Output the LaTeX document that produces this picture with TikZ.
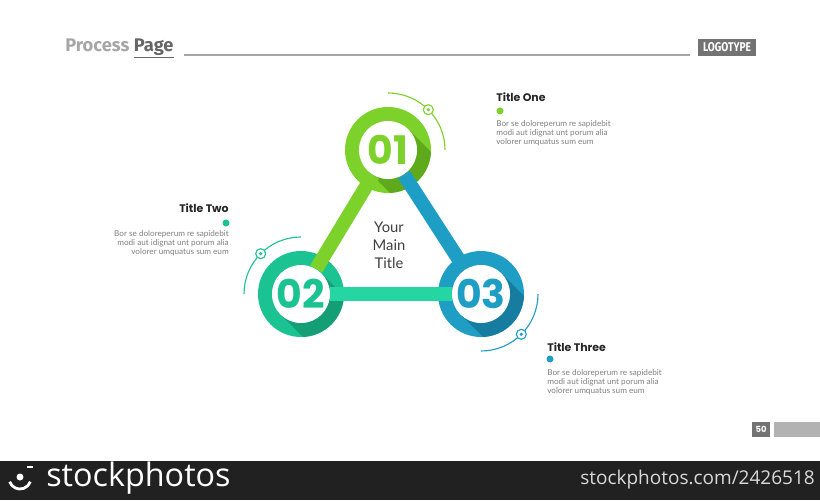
\documentclass[tikz,border=0pt]{standalone}
\usepackage{fontspec}
\setmainfont{Lato}
\newfontfamily\numfont{Poppins}
\newfontfamily\headfont{Fira Sans}
\newfontfamily\condfont[FakeStretch=0.8]{Fira Sans}
\newfontfamily\wmfont{Open Sans}
\usetikzlibrary{backgrounds,calc}

\definecolor{limeg}{HTML}{7DD12B}
\definecolor{limed}{HTML}{5EAA1C}
\definecolor{tealg}{HTML}{1BC393}
\definecolor{teald}{HTML}{139E76}
\definecolor{mintg}{HTML}{26D6A2}
\definecolor{blueg}{HTML}{1E9EC4}
\definecolor{blued}{HTML}{167DA0}

% long shadow on the lower right of a ring
\newcommand{\ringshadow}[2]{%
  \begin{scope}
    \clip ($(#1.center)+(20.5,20.5)$) -- ++(60,-60)
          -- ($(#1.center)+(39.5,-80.5)$) -- ($(#1.center)+(-20.5,-20.5)$) -- cycle;
    \fill[#2, even odd rule] (#1.center) circle (43) (#1.center) circle (29);
  \end{scope}}
\newcommand{\lorem}{Bor se doloreperum re sapidebit\\modi aut idignat unt porum alia\\volorer umquatus sum eum}

\begin{document}
\begin{tikzpicture}[x=0.025cm, y=0.025cm]

    \tikzset{% This is the style settings for nodes
        hub/.style={circle, minimum size=1.45cm, inner sep=0pt, fill=white, text=#1,
                    font=\numfont\bfseries\fontsize{28}{28}\selectfont},
        bar/.style={line width=0.35cm, draw=#1},
        deco/.style={draw=#1, line width=0.8pt},
        marker/.style={circle, draw=#1, fill=white, line width=0.8pt, minimum size=0.25cm, inner sep=0pt,
                    path picture={\fill[#1] (path picture bounding box.center) circle (0.045cm);}},
        title/.style={font=\numfont\bfseries\fontsize{7.8}{9}\selectfont, text=black!85, inner sep=0pt},
        body/.style={font=\fontsize{5.8}{6.5}\selectfont, text=black!50, inner sep=0pt}}

    \useasboundingbox (0,0) rectangle (820,500);

    % header
    \node [anchor=base west, inner sep=0pt, text=black!35, font=\headfont\bfseries\fontsize{13}{15}\selectfont] (proc) at (65,448) {Process};
    \node [anchor=base west, inner sep=0pt, text=black!60, font=\headfont\bfseries\fontsize{13}{15}\selectfont] (page) at ($(proc.base east)+(4,0)$) {Page};
    \draw [black!60, line width=0.04cm] ($(page.south west)+(0,-1)$) -- ($(page.south east)+(0,-1)$);
    \draw [black!35, line width=0.05cm] (184,445) -- (690,445);
    \node [fill=black!55, text=white, inner sep=0pt, minimum width=1.45cm, minimum height=0.425cm,
           font=\condfont\bfseries\fontsize{9}{9}\selectfont] (logo) at (727,452.5) {LOGOTYPE};

    % the three hubs
    \node [hub=limeg] (h1) at (388,350) {01};
    \node [hub=tealg] (h2) at (301,206) {02};
    \node [hub=blueg] (h3) at (481,206) {03};

    \begin{scope}[on background layer]
        \fill [limeg] (h1.center) circle (43);
        \fill [tealg] (h2.center) circle (43);
        \fill [blueg] (h3.center) circle (43);
        \ringshadow{h1}{limed}
        \ringshadow{h2}{teald}
        \ringshadow{h3}{blued}
        \draw [bar=limeg] (h1) -- (h2);
        \draw [bar=blueg] (h1) -- (h3);
        \draw [bar=mintg] (h2) -- (h3);
    \end{scope}

    % thin arcs with markers
    \draw [deco=limeg] ($(h1.center)+(0:57)$) arc[start angle=0, end angle=90, radius=57];
    \draw [deco=tealg] ($(h2.center)+(90:57)$) arc[start angle=90, end angle=180, radius=57];
    \draw [deco=blueg] ($(h3.center)+(270:57)$) arc[start angle=270, end angle=360, radius=57];
    \node [marker=limeg] (m1) at ($(h1.center)+(45:57)$) {};
    \node [marker=tealg] (m2) at ($(h2.center)+(135:57)$) {};
    \node [marker=blueg] (m3) at ($(h3.center)+(315:57)$) {};

    \node [align=center, text=black!75, font=\fontsize{10.5}{12.8}\selectfont] (main) at (389,255) {Your\\Main\\Title};

    % text blocks
    \node [title, anchor=base west] (t1) at (496,398) {Title One};
    \fill [limeg] (500,389) circle (3.5);
    \node [body, anchor=north west, align=left] (b1) at (496,380) {\lorem};

    \node [title, anchor=base east] (t2) at (229,287) {Title Two};
    \fill [tealg] (226,277) circle (3.5);
    \node [body, anchor=north east, align=right] (b2) at (229,270) {\lorem};

    \node [title, anchor=base west] (t3) at (547,149) {Title Three};
    \fill [blueg] (550,141) circle (3.5);
    \node [body, anchor=north west, align=left] (b3) at (547,131) {\lorem};

    % page number
    \node [fill=black!55, text=white, inner sep=0pt, minimum width=0.45cm, minimum height=0.375cm,
           font=\numfont\bfseries\fontsize{6}{6}\selectfont] (pnum) at (761,70.5) {50};
    \fill [black!30] (774,63) rectangle (820,78);

    % bottom bar
    \fill [black!87] (0,0) rectangle (820,39);
    \fill [white] (20,23) circle (3.5);
    \draw [white, line width=0.07cm] ($(20,22)+(200:11)$) arc[start angle=200, end angle=340, radius=11];
    \draw [white, line width=0.06cm] (27,33) -- (33,33);
    \node [anchor=west, text=white, inner sep=0pt, font=\wmfont\fontsize{23}{23}\selectfont] (brand) at (46,22) {stockphotos};
    \node [anchor=east, text=black!15, inner sep=0pt, font=\wmfont\fontsize{13.5}{14}\selectfont] (url) at (815,20) {stockphotos.com/2426518};

\end{tikzpicture}
\end{document}
